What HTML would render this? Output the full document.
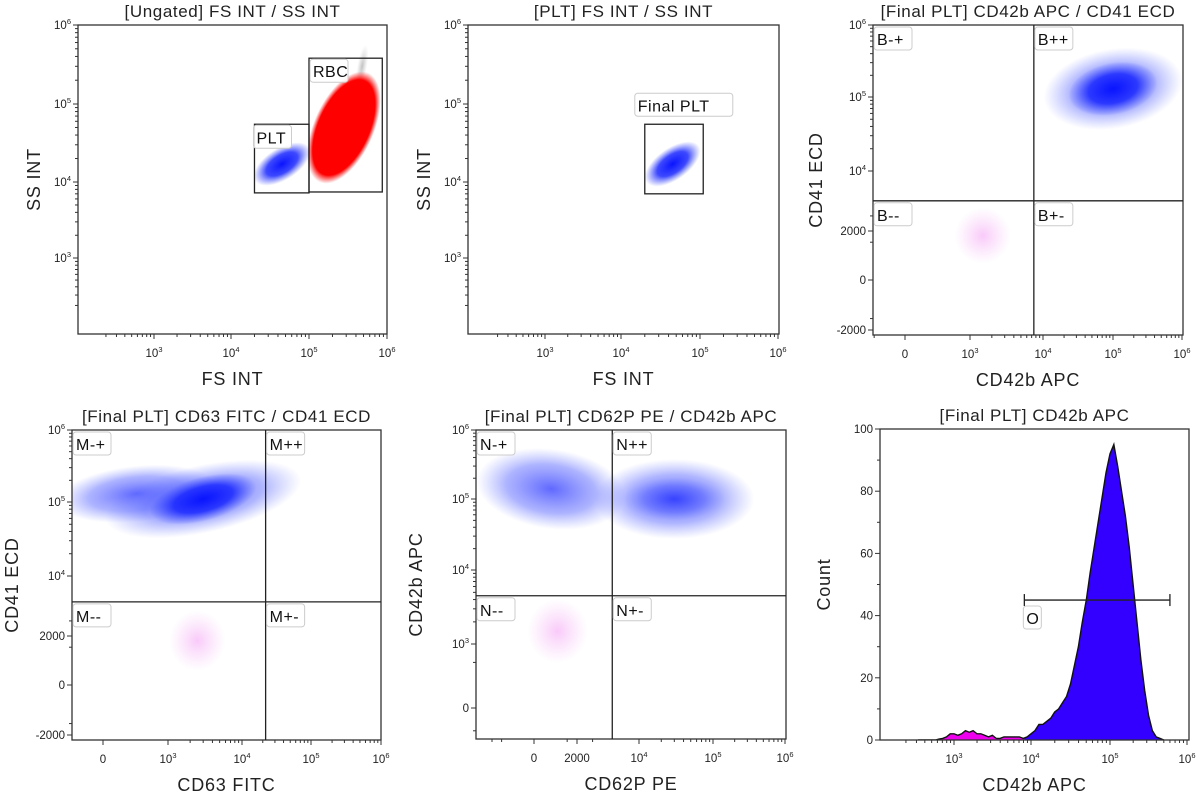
<!DOCTYPE html>
<html><head><meta charset="utf-8"><style>
html,body{margin:0;padding:0;background:#fff;}
svg{display:block;font-family:"Liberation Sans",sans-serif;}
</style></head><body>
<svg id="fig" width="1200" height="794" viewBox="0 0 1200 794" xmlns="http://www.w3.org/2000/svg">
<defs>
<radialGradient id="gBlue"><stop offset="0" stop-color="#0a14ff" stop-opacity="1"/><stop offset="0.55" stop-color="#1a28ff" stop-opacity="0.85"/><stop offset="1" stop-color="#3a4aff" stop-opacity="0"/></radialGradient>
<radialGradient id="gBlueLight"><stop offset="0" stop-color="#2a36ff" stop-opacity="0.75"/><stop offset="0.6" stop-color="#4a58ff" stop-opacity="0.45"/><stop offset="1" stop-color="#6a78ff" stop-opacity="0"/></radialGradient>
<radialGradient id="gRed"><stop offset="0" stop-color="#ff0000" stop-opacity="1"/><stop offset="0.85" stop-color="#ff0000" stop-opacity="1"/><stop offset="1" stop-color="#ff2020" stop-opacity="0"/></radialGradient>
<radialGradient id="gPink"><stop offset="0" stop-color="#ee66ee" stop-opacity="0.35"/><stop offset="1" stop-color="#ee88ee" stop-opacity="0"/></radialGradient>
<radialGradient id="gGray"><stop offset="0" stop-color="#999" stop-opacity="0.6"/><stop offset="1" stop-color="#bbb" stop-opacity="0"/></radialGradient>
</defs>
</svg>
<script>
// ---------- DATA ----------
const histLog = [2.5,2.55,2.6,2.65,2.7,2.75,2.8,2.85,2.9,2.95,3.0,3.05,3.1,3.15,3.2,3.25,3.3,3.35,3.4,3.45,3.5,3.55,3.6,3.65,3.7,3.75,3.8,3.85,3.9,3.95,4.0,4.05,4.1,4.15,4.2,4.25,4.3,4.35,4.4,4.45,4.5,4.55,4.6,4.65,4.7,4.75,4.8,4.85,4.9,4.95,5.0,5.05,5.1,5.15,5.2,5.25,5.3,5.35,5.4,5.45,5.5,5.55,5.6,5.65,5.7];
const histCount = [0,0,0,0,0,0,0.3,0.5,1,2,2,1.5,2,3,2.5,3,2,2,1.5,1,1.5,0.5,0.5,1,1,1,1,1,0.5,1,2,3,5,5,6,7,9,10,12,14,18,24,30,38,45,54,62,70,78,86,92,95,88,80,72,62,50,38,26,16,8,3,1,0.5,0];
const histYTicks = [0,20,40,60,80,100];
const histGate = [8200, 600000, 45];
const p1Clouds = [[45000,17000],[280000,50000],[480000,300000]];
const p2Clouds = [[45000,17000]];
const p3Clouds = [[100000,130000],[1500,1500]];
const p4Clouds = [[3000,110000],[300,130000],[2500,1500]];
const p5Clouds = [[300,140000],[30000,100000],[500,1500]];
const p1Gates = [[20000,7200,100000,55000],[100000,7400,870000,380000]];
const p2Gates = [[20000,7000,110000,55000]];
const p3Quad = [7500, 4500];
const p4Quad = [22000, 5000];
const p5Quad = [5000, 4500];

// ---------- helpers ----------
const NS="http://www.w3.org/2000/svg";
const svg=document.getElementById('fig');
function mk(tag,attrs,parent){const e=document.createElementNS(NS,tag);for(const k in attrs)e.setAttribute(k,attrs[k]);(parent||svg).appendChild(e);return e;}
function T(v){return Math.asinh(v/200);}
function scale(anchors){
  const a=anchors.map(p=>[T(p[0]),p[1]]);
  return function(v){const t=T(v);let i=0;
    if(t<=a[0][0])i=0;else if(t>=a[a.length-1][0])i=a.length-2;else{while(i<a.length-2&&t>a[i+1][0])i++;}
    const [t0,p0]=a[i],[t1,p1]=a[i+1];return p0+(t-t0)/(t1-t0)*(p1-p0);};
}
function supLabel(g,x,y,k,anchor,name){
  const t=mk('text',{x:x,y:y,'font-size':11.5,fill:'#222','text-anchor':anchor},g);
  
  t.appendChild(document.createTextNode('10'));
  const s=mk('tspan',{dy:-5,'font-size':7.5},t);s.textContent=k;
  return t;
}
function panel(cfg){
  const g=mk('g',{});
  
  const B=cfg.box;
  const title=mk('text',{x:(B.l+B.r)/2,y:B.t-8,'font-size':17,'letter-spacing':0.6,'text-anchor':'middle',fill:'#222'},g);
  title.textContent=cfg.title;
  const xl=mk('text',{x:(B.l+B.r)/2,y:B.b+51,'font-size':18,'letter-spacing':0.8,'text-anchor':'middle',fill:'#222'},g);
  xl.textContent=cfg.xlab;
  const yl=mk('text',{x:0,y:0,'font-size':18,'letter-spacing':0.8,'text-anchor':'middle',fill:'#222',transform:`translate(${cfg.ylx},${(B.t+B.b)/2}) rotate(-90)`},g);
  yl.textContent=cfg.ylab;
  const plot=mk('g',{},g);
  const clip='clip'+cfg.name;const cp=mk('clipPath',{id:clip},g);mk('rect',{x:B.l,y:B.t,width:B.r-B.l,height:B.b-B.t},cp);
  plot.setAttribute('clip-path',`url(#${clip})`);
  const ax=mk('g',{stroke:'#333','stroke-width':1},g);
  cfg.xticks.forEach(tk=>{const px=cfg.sx(tk[0]);mk('line',{x1:px,x2:px,y1:B.b,y2:B.b+5},ax);
    if(tk[1]==='p')supLabel(g,px,B.b+23,tk[2],'middle','x-tick-label');
    else{const t=mk('text',{x:px,y:B.b+23,'font-size':11.5,fill:'#222','text-anchor':'middle'},g);t.textContent=tk[1];}});
  cfg.yticks.forEach(tk=>{const py=cfg.sy(tk[0]);mk('line',{x1:B.l-5,x2:B.l,y1:py,y2:py},ax);
    if(tk[1]==='p')supLabel(g,B.l-7,py+4,tk[2],'end','y-tick-label');
    else{const t=mk('text',{x:B.l-7,y:py+4,'font-size':11.5,fill:'#222','text-anchor':'end'},g);t.textContent=tk[1];}});
  (cfg.xminor||[]).forEach(v=>{const px=cfg.sx(v);if(px>B.l&&px<B.r)mk('line',{x1:px,x2:px,y1:B.b,y2:B.b+3},ax);});
  (cfg.yminor||[]).forEach(v=>{const py=cfg.sy(v);if(py>B.t&&py<B.b)mk('line',{x1:B.l-3,x2:B.l,y1:py,y2:py},ax);});
  const fr=mk('rect',{x:B.l,y:B.t,width:B.r-B.l,height:B.b-B.t,fill:'none',stroke:'#333','stroke-width':1.3},g);
  
  return {g,plot,B};
}
function logMinor(lo,hi){const r=[];for(let k=lo;k<hi;k++)for(let m=2;m<=9;m++)r.push(m*Math.pow(10,k));return r;}
function cloud(p,cfg,c,rx,ry,ang,fill,name){
  const cx=cfg.sx(c[0]),cy=cfg.sy(c[1]);
  const e=mk('ellipse',{cx:cx,cy:cy,rx:rx,ry:ry,fill:`url(#${fill})`,transform:`rotate(${ang} ${cx} ${cy})`},p);
  return e;
}
function tag(g,x,y,text,name){
  const w=text.length*10+8;
  const r=mk('rect',{x:x,y:y,width:w,height:23,rx:3,fill:'#fff','fill-opacity':0.85,stroke:'#ccc','stroke-width':1},g);
  
  const t=mk('text',{x:x+3,y:y+18,'font-size':16,'letter-spacing':0.5,fill:'#111'},g);t.textContent=text;
  
}
function quad(P,cfg,q,names){
  const qx=cfg.sx(q[0]),qy=cfg.sy(q[1]),B=P.B;
  const l1=mk('line',{x1:qx,x2:qx,y1:B.t,y2:B.b,stroke:'#222','stroke-width':1.3},P.g);
  
  const l2=mk('line',{x1:B.l,x2:B.r,y1:qy,y2:qy,stroke:'#222','stroke-width':1.3},P.g);
  
  tag(P.g,B.l+1,B.t+2,names[0],'quadrant-label-ul');
  tag(P.g,qx+1,B.t+2,names[1],'quadrant-label-ur');
  tag(P.g,B.l+1,qy+2,names[2],'quadrant-label-ll');
  tag(P.g,qx+1,qy+2,names[3],'quadrant-label-lr');
}
function gate(P,cfg,gt,name){
  const x1=cfg.sx(gt[0]),x2=cfg.sx(gt[2]),y1=cfg.sy(gt[1]),y2=cfg.sy(gt[3]);
  const r=mk('rect',{x:x1,y:y2,width:x2-x1,height:y1-y2,fill:'none',stroke:'#222','stroke-width':1.3},P.g);
  
  return [x1,y2];
}
const dec=k=>Math.pow(10,k);
const logX=k=>[dec(k),'p',String(k)];

// ---------- Panel 1 ----------
const c1={name:'panel-ungated-fs-ss',title:'[Ungated] FS INT / SS INT',xlab:'FS INT',ylab:'SS INT',ylx:40,
 box:{l:78,t:25,r:387,b:334},
 sx:scale([[1e3,154],[1e4,231],[1e5,309],[1e6,387]]),sy:scale([[1e3,258],[1e4,182],[1e5,104],[1e6,25]]),
 xticks:[3,4,5,6].map(logX),yticks:[3,4,5,6].map(logX),xminor:logMinor(2,6),yminor:logMinor(2,6)};
const P1=panel(c1);
cloud(P1.plot,c1,p1Clouds[2],22,5,-80,'gGray','rbc-tail-cloud');
cloud(P1.plot,c1,p1Clouds[1],60,30,-66,'gRed','rbc-cloud');
cloud(P1.plot,c1,p1Clouds[0],32,16,-32,'gBlue','plt-cloud');
{const a=gate(P1,c1,p1Gates[0],'plt-gate');tag(P1.g,a[0]-1,a[1]+1,'PLT','plt-gate-label');
 const b=gate(P1,c1,p1Gates[1],'rbc-gate');tag(P1.g,b[0]+1,b[1]+1,'RBC','rbc-gate-label');}

// ---------- Panel 2 ----------
const c2={name:'panel-plt-fs-ss',title:'[PLT] FS INT / SS INT',xlab:'FS INT',ylab:'SS INT',ylx:430,
 box:{l:468,t:25,r:779,b:334},
 sx:scale([[1e3,545],[1e4,621],[1e5,700],[1e6,778]]),sy:scale([[1e3,258],[1e4,182],[1e5,104],[1e6,25]]),
 xticks:[3,4,5,6].map(logX),yticks:[3,4,5,6].map(logX),xminor:logMinor(2,6),yminor:logMinor(2,6)};
const P2=panel(c2);
cloud(P2.plot,c2,p2Clouds[0],32,16,-35,'gBlue','final-plt-cloud');
{const a=gate(P2,c2,p2Gates[0],'final-plt-gate');tag(P2.g,a[0]-10,a[1]-31,'Final PLT','final-plt-gate-label');}

// ---------- Panel 3 ----------
const c3={name:'panel-cd42b-cd41',title:'[Final PLT] CD42b APC / CD41 ECD',xlab:'CD42b APC',ylab:'CD41 ECD',ylx:822,
 box:{l:873,t:25,r:1183,b:335},
 sx:scale([[-2000,865],[0,905],[1e3,970],[1e4,1043],[1e5,1113],[1e6,1182]]),
 sy:scale([[-2000,330],[0,280],[2000,231],[1e4,171],[1e5,97],[1e6,25]]),
 xticks:[[0,'0'],logX(3),logX(4),logX(5),logX(6)],yticks:[[-2000,'-2000'],[0,'0'],[2000,'2000'],logX(4),logX(5),logX(6)],
 xminor:[-1000].concat(logMinor(3,6)),yminor:[-1000,1000,3000].concat(logMinor(4,6))};
const P3=panel(c3);
cloud(P3.plot,c3,p3Clouds[1],28,28,0,'gPink','bmm-pink-cloud');
cloud(P3.plot,c3,p3Clouds[0],70,40,-10,'gBlueLight','bpp-halo');
cloud(P3.plot,c3,p3Clouds[0],45,26,-12,'gBlue','bpp-cloud');
quad(P3,c3,p3Quad,['B-+','B++','B--','B+-']);

// ---------- Panel 4 ----------
const c4={name:'panel-cd63-cd41',title:'[Final PLT] CD63 FITC / CD41 ECD',xlab:'CD63 FITC',ylab:'CD41 ECD',ylx:18,
 box:{l:72,t:430,r:381,b:740},
 sx:scale([[-2000,62],[0,103],[1e3,168],[1e4,242],[1e5,311],[1e6,381]]),
 sy:scale([[-2000,735],[0,685],[2000,636],[1e4,576],[1e5,502],[1e6,430]]),
 xticks:[[0,'0'],logX(3),logX(4),logX(5),logX(6)],yticks:[[-2000,'-2000'],[0,'0'],[2000,'2000'],logX(4),logX(5),logX(6)],
 xminor:[-1000].concat(logMinor(3,6)),yminor:[-1000,1000,3000].concat(logMinor(4,6))};
const P4=panel(c4);
cloud(P4.plot,c4,p4Clouds[2],28,30,0,'gPink','mmm-pink-cloud');
cloud(P4.plot,c4,p4Clouds[1],80,28,-6,'gBlueLight','mmp-left-halo');
cloud(P4.plot,c4,p4Clouds[0],100,34,-12,'gBlueLight','mmp-halo');
cloud(P4.plot,c4,p4Clouds[0],55,22,-15,'gBlue','mmp-cloud');
quad(P4,c4,p4Quad,['M-+','M++','M--','M+-']);

// ---------- Panel 5 ----------
const c5={name:'panel-cd62p-cd42b',title:'[Final PLT] CD62P PE / CD42b APC',xlab:'CD62P PE',ylab:'CD42b APC',ylx:422,
 box:{l:476,t:430,r:786,b:739},
 sx:scale([[-2000,492],[0,534],[2000,577],[1e4,639],[1e5,713],[1e6,785]]),
 sy:scale([[-1000,740],[0,708],[1e3,644],[1e4,570],[1e5,499],[1e6,430]]),
 xticks:[[0,'0'],[2000,'2000'],logX(4),logX(5),logX(6)],yticks:[[0,'0'],logX(3),logX(4),logX(5),logX(6)],
 xminor:[-2000,-1000,1000,3000].concat(logMinor(4,6)),yminor:[-500,500].concat(logMinor(3,6))};
const P5=panel(c5);
cloud(P5.plot,c5,p5Clouds[2],30,32,0,'gPink','nmm-pink-cloud');
cloud(P5.plot,c5,p5Clouds[0],75,40,8,'gBlueLight','nmp-cloud');
cloud(P5.plot,c5,p5Clouds[1],80,40,0,'gBlueLight','npp-cloud');
cloud(P5.plot,c5,p5Clouds[1],50,22,0,'gBlueLight','npp-core');
quad(P5,c5,p5Quad,['N-+','N++','N--','N+-']);

// ---------- Panel 6 histogram ----------
const c6={name:'panel-cd42b-histogram',title:'[Final PLT] CD42b APC',xlab:'CD42b APC',ylab:'Count',ylx:830,
 box:{l:880,t:429,r:1189,b:740},
 sx:scale([[1e3,954],[1e4,1031],[1e5,1110],[1e6,1187]]),sy:v=>740-v*3.11,
 xticks:[3,4,5,6].map(logX),yticks:histYTicks.map(v=>[v,String(v)]),xminor:logMinor(2,6),
 yminor:[10,30,50,70,90]};
const P6=panel(c6);
{const gx=c6.sx(histGate[0]);
 const pts=histLog.map((l,i)=>[c6.sx(dec(l)),c6.sy(histCount[i])]);
 let outline='M'+pts[0][0]+','+c6.sy(0);pts.forEach(p=>outline+=' L'+p[0]+','+p[1]);outline+=' L'+pts[pts.length-1][0]+','+c6.sy(0)+'Z';
 const clipB=mk('clipPath',{id:'histBlue'},P6.g);mk('rect',{x:gx,y:420,width:400,height:330},clipB);
 const clipM=mk('clipPath',{id:'histMag'},P6.g);mk('rect',{x:870,y:420,width:gx-870,height:330},clipM);
 const m=mk('path',{d:outline,fill:'#ee00ee','clip-path':'url(#histMag)'},P6.plot);
 
 const b=mk('path',{d:outline,fill:'#3300ff','clip-path':'url(#histBlue)'},P6.plot);
 
 let line='M'+pts[0][0]+','+pts[0][1];pts.forEach(p=>line+=' L'+p[0]+','+p[1]);
 const o=mk('path',{d:line,fill:'none',stroke:'#111','stroke-width':1.4},P6.plot);
 
 const x1=c6.sx(histGate[0]),x2=c6.sx(histGate[1]),gy=c6.sy(histGate[2]);
 const gg=mk('g',{stroke:'#222','stroke-width':1.3},P6.g);
 mk('line',{x1:x1,x2:x2,y1:gy,y2:gy},gg);mk('line',{x1:x1,x2:x1,y1:gy-6,y2:gy+6},gg);mk('line',{x1:x2,x2:x2,y1:gy-6,y2:gy+6},gg);
 tag(P6.g,x1-1,gy+6,'O','o-gate-label');
}
</script>
</body></html>
